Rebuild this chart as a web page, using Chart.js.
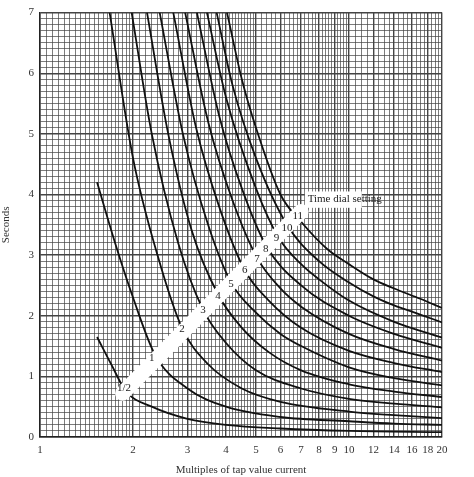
<!DOCTYPE html><html><head><meta charset="utf-8">
<script src="https://cdn.jsdelivr.net/npm/chart.js@4"></script>
<style>html,body{margin:0;padding:0;background:#fff}#w{width:474px;height:477px}</style></head>
<body><div id="w"><canvas id="c"></canvas></div><script>
const xTickLabels=[1,2,3,4,5,6,7,8,9,10,12,14,16,18,20];
const yTickLabels=[0,1,2,3,4,5,6,7];
const dialLabels=['1/2','1','2','3','4','5','6','7','8','9','10','11'];
const td_half=[[1.53,1.65],[1.7,1.2],[1.9,0.75],[2.3,0.5],[3,0.3],[4,0.2],[6,0.14],[10,0.1],[20,0.08]];
const td1=[[1.53,4.2],[1.75,3.2],[2.0,2.3],[2.36,1.35],[3,0.8],[4,0.5],[6,0.33],[10,0.26],[14,0.22],[20,0.2]];
const td2=[[1.68,7],[2.0,4.6],[2.4,3.0],[2.88,1.8],[3.5,1.2],[4.5,0.8],[6,0.58],[10,0.42],[14,0.36],[20,0.31]];
const td3=[[1.98,7],[2.3,5.0],[2.8,3.2],[3.37,2.1],[4,1.55],[5,1.1],[7,0.8],[10,0.63],[14,0.55],[20,0.49]];
const td4=[[2.22,7],[2.6,5.0],[3.1,3.4],[3.77,2.35],[4.5,1.8],[5.5,1.4],[7,1.1],[10,0.87],[14,0.75],[20,0.66]];
const td5=[[2.44,7],[2.9,5.0],[3.5,3.5],[4.15,2.55],[5,2.05],[6,1.7],[7,1.5],[10,1.15],[14,0.97],[20,0.85]];
const td6=[[2.70,7],[3.2,5.1],[3.8,3.8],[4.6,2.75],[5.5,2.25],[7,1.8],[10,1.42],[14,1.22],[20,1.07]];
const td7=[[2.95,7],[3.5,5.2],[4.2,3.9],[5.05,2.95],[6,2.45],[7,2.15],[10,1.7],[14,1.45],[20,1.26]];
const td8=[[3.22,7],[3.8,5.3],[4.5,4.1],[5.4,3.15],[7,2.5],[10,2.0],[14,1.7],[20,1.47]];
const td9=[[3.47,7],[4,5.6],[5,4.1],[5.9,3.3],[7,2.85],[8,2.6],[10,2.25],[14,1.9],[20,1.64]];
const td10=[[3.73,7],[4.2,5.8],[5,4.6],[6.3,3.5],[8,2.9],[10,2.55],[12,2.32],[14,2.17],[17,2.02],[20,1.89]];
const td11=[[4.03,7],[4.5,5.9],[5,5.1],[6,4.0],[7,3.55],[8.5,3.1],[10,2.85],[12,2.6],[14,2.45],[17,2.28],[20,2.13]];
const curves=[td_half,td1,td2,td3,td4,td5,td6,td7,td8,td9,td10,td11];
const labelPos=[[1.87,0.8],[2.3,1.3],[2.88,1.78],[3.37,2.1],[3.77,2.33],[4.15,2.52],[4.6,2.75],[5.04,2.93],[5.38,3.1],[5.83,3.28],[6.3,3.44],[6.83,3.64]];
const FONT='"Liberation Serif","DejaVu Serif",serif';
const xGrid=[];for(let v=100;v<=2000;){xGrid.push(v/100);v+= v<200?5:(v<500?10:(v<1000?20:50));}
const yGrid=[];for(let i=0;i<=70;i++)yGrid.push(i/10);
const overlay={id:'ov',afterDatasetsDraw(ch){const c=ch.ctx,x=ch.scales.x,y=ch.scales.y;
 c.save();c.strokeStyle='#fff';c.lineWidth=15;c.lineCap='round';c.beginPath();
 c.moveTo(x.getPixelForValue(1.85),y.getPixelForValue(0.72));c.lineTo(x.getPixelForValue(7.0),y.getPixelForValue(3.72));c.stroke();
 c.fillStyle='#fff';const bx=x.getPixelForValue(7.2),by=y.getPixelForValue(4.05);c.fillRect(bx,by,x.getPixelForValue(11)-bx,y.getPixelForValue(3.78)-by);
 c.fillStyle='#222';c.font='11px '+FONT;c.textAlign='center';c.textBaseline='middle';
 labelPos.forEach((p,i)=>c.fillText(dialLabels[i],x.getPixelForValue(p[0]),y.getPixelForValue(p[1])));
 c.textAlign='left';c.fillText('Time dial setting',x.getPixelForValue(7.35),y.getPixelForValue(3.92));c.restore();}};
new Chart(document.getElementById('c'),{type:'line',
 data:{datasets:curves.map(d=>({data:d.map(p=>({x:p[0],y:p[1]})),borderColor:'#111',borderWidth:1.8,pointRadius:0,cubicInterpolationMode:'monotone',fill:false}))},
 options:{responsive:true,maintainAspectRatio:false,animation:false,events:[],
  layout:{padding:{left:0,top:10,right:32,bottom:0}},
  plugins:{legend:{display:false},tooltip:{enabled:false}},
  scales:{
   x:{type:'logarithmic',min:1,max:20,afterBuildTicks:a=>{a.ticks=xGrid.map(v=>({value:v}));},
     afterFit:a=>{a.height=40;},
     ticks:{autoSkip:false,maxRotation:0,padding:7,color:'#333',font:{family:FONT,size:11},callback:(v)=>xTickLabels.includes(Math.round(v*100)/100)?String(Math.round(v)):''},
     grid:{color:'#444',lineWidth:c=>xTickLabels.includes(Math.round(c.tick.value*100)/100)?1.4:0.7,drawTicks:false},border:{color:'#222',width:1.5},
     title:{display:true,text:'Multiples of tap value current',font:{family:FONT,size:11},color:'#333',padding:{top:0,bottom:0}}},
   y:{min:0,max:7,afterBuildTicks:a=>{a.ticks=yGrid.map(v=>({value:v}));},afterFit:a=>{a.width=40;},
     ticks:{autoSkip:false,padding:6,color:'#333',font:{family:FONT,size:11},callback:v=>Math.abs(v-Math.round(v))<1e-6?String(Math.round(v)):''},
     grid:{color:'#444',lineWidth:c=>Math.abs(c.tick.value-Math.round(c.tick.value))<1e-6?1.4:0.7,drawTicks:false},border:{color:'#222',width:1.5},
     title:{display:true,text:'Seconds',font:{family:FONT,size:11},color:'#333',padding:{top:0,bottom:4}}}}},
 plugins:[overlay]});
</script></body></html>
